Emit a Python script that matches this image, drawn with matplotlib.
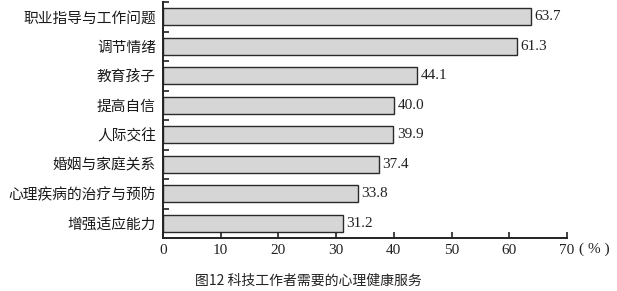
import matplotlib

matplotlib.use("Agg")
import matplotlib.pyplot as plt
import numpy as np

CATEGORIES = ["职业指导与工作问题", "调节情绪", "教育孩子", "提高自信",
              "人际交往", "婚姻与家庭关系", "心理疾病的治疗与预防", "增强适应能力"]
VALUES = [63.7, 61.3, 44.1, 40.0, 39.9, 37.4, 33.8, 31.2]
X_TICKS = [0, 10, 20, 30, 40, 50, 60, 70]
CAPTION = "图12 科技工作者需要的心理健康服务"

CJK = ["Noto Sans CJK SC", "DejaVu Sans"]
SERIF = "Liberation Serif"


def main():
    fig = plt.figure(figsize=(6.17, 2.91), dpi=100)
    ax = fig.add_axes([0.264, 0.182, 0.655, 0.811])

    n = len(CATEGORIES)
    y = np.arange(n)[::-1]
    ax.barh(y, VALUES, height=0.58, color="#d6d6d6", edgecolor="#2a2a2a", linewidth=1.0)

    for yi, v in zip(y, VALUES):
        ax.text(v + 0.6, yi, f"{v:.1f}", va="center", ha="left",
                fontsize=11, family=SERIF, color="#222222")

    ax.set_ylim(-0.5, n - 0.5)
    ax.set_xlim(0, 70)
    ax.set_yticks(y)
    ax.set_yticklabels(CATEGORIES, family=CJK, fontsize=10.6, color="#1a1a1a")
    ax.tick_params(axis="y", which="major", length=0, pad=5)
    ax.set_yticks(np.arange(n) + 0.5, minor=True)
    ax.tick_params(axis="y", which="minor", direction="in", length=4, width=1.2, color="#222222")

    ax.set_xticks(X_TICKS)
    ax.set_xticklabels([str(t) for t in X_TICKS], family=SERIF, fontsize=11, color="#222222")
    ax.tick_params(axis="x", direction="in", length=4, width=1.2, pad=4, color="#222222")

    for side in ["top", "right"]:
        ax.spines[side].set_visible(False)
    for side in ["left", "bottom"]:
        ax.spines[side].set_linewidth(1.4)
        ax.spines[side].set_color("#222222")

    ax.annotate("( % )", xy=(1.0, 0), xycoords="axes fraction", xytext=(8.5, -3.5),
                textcoords="offset points", ha="left", va="top",
                family=SERIF, fontsize=11, color="#222222")

    fig.text(0.5, 0.012, CAPTION, ha="center", va="bottom", family=CJK,
             fontsize=10, color="#222222")

    fig.savefig("out.png", dpi=100)
    plt.close(fig)


if __name__ == "__main__":
    main()
